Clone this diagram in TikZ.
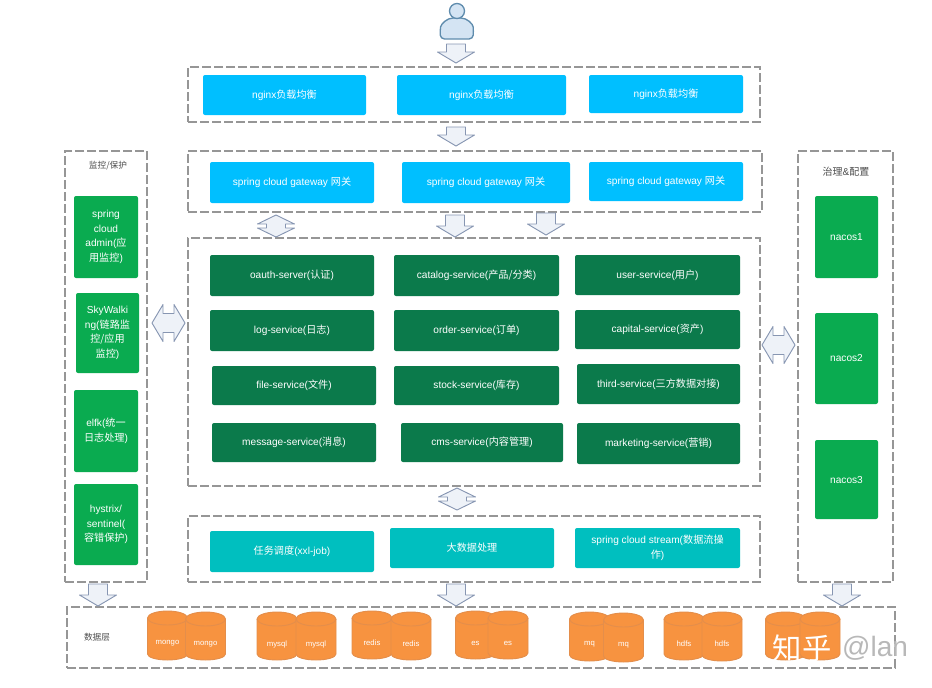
\documentclass[tikz,border=0pt]{standalone}
\usepackage{fontspec}
\setmainfont{Liberation Sans}
\newfontfamily\cjk{Noto Sans CJK SC}
\newcommand{\zh}[1]{{\cjk #1}}
\usetikzlibrary{positioning, calc}
\definecolor{colBlue}{RGB}{0, 191, 255}
\definecolor{colDark}{RGB}{11, 122, 75}
\definecolor{colGreen}{RGB}{10, 171, 80}
\definecolor{colTeal}{RGB}{0, 191, 191}
\definecolor{colOrange}{RGB}{247, 147, 64}
\definecolor{colEdge}{RGB}{228, 142, 75}
\definecolor{colDash}{RGB}{150, 150, 150}
\definecolor{colArrow}{RGB}{238, 242, 248}
\definecolor{colArrowEdge}{RGB}{135, 150, 178}
\definecolor{colUser}{RGB}{212, 228, 243}
\definecolor{colUserEdge}{RGB}{95, 140, 173}
\tikzset{
    svc/.style={rectangle, rounded corners=1.5pt, inner sep=1pt, align=center, text=white,
        font=\fontsize{7.6}{11}\selectfont},
    layer/.style={rectangle, draw=colDash, dash pattern=on 6.5pt off 2.5pt, line width=0.95pt, inner sep=0pt},
    dbcyl/.style={draw=colEdge, fill=colOrange, line width=0.7pt},
    dblabel/.style={text=white, inner sep=0pt, font=\fontsize{5.8}{7}\selectfont},
    blockarrow/.style={draw=colArrowEdge, fill=colArrow, line width=0.7pt, line join=round},
    title/.style={text=black!70, font=\fontsize{6.5}{8}\selectfont}
}

\begin{document}
\begin{tikzpicture}[x=0.75pt, y=-0.75pt]
    \useasboundingbox (0,0) rectangle (932,687);

    % --- Dashed layers ---
    \foreach \nm/\xa/\ya/\xb/\yb in {layNginx/188/67/760/122, layGateway/188/151/762/212, layService/188/238/760/486,
        layTask/188/516/760/582, layMonitor/65/151/147/582, layConfig/798/151/893/582, layData/67/607/895/668} {
        \node[layer, minimum width=(\xb-\xa)*0.75pt, minimum height=(\yb-\ya)*0.75pt] (\nm) at ({(\xa+\xb)/2}, {(\ya+\yb)/2}) {};
    }

    % --- User ---
    \draw[draw=colUserEdge, fill=colUser, line width=1pt, rounded corners=3pt]
        (440.5,39) -- (440,31) .. controls (441,24) and (447,18) .. (457,18) .. controls (467,18) and (473,24) .. (473.5,31) -- (473,39) -- cycle;
    \draw[draw=colUserEdge, fill=colUser, line width=1pt] (457,11) circle [radius=7.5];

    % --- Blue boxes ---
    \foreach \nm/\xa/\ya/\xb/\yb/\txt in {
        nginxA/203/75/366/115/nginx\zh{负载均衡}, nginxB/397/75/566/115/nginx\zh{负载均衡}, nginxC/589/75/743/113/nginx\zh{负载均衡},
        gateA/210/162/374/203/spring cloud gateway \zh{网关}, gateB/402/162/570/203/spring cloud gateway \zh{网关},
        gateC/589/162/743/201/spring cloud gateway \zh{网关}} {
        \node[svc, fill=colBlue, minimum width=(\xb-\xa)*0.75pt, minimum height=(\yb-\ya)*0.75pt] (\nm) at ({(\xa+\xb)/2}, {(\ya+\yb)/2}) {\txt};
    }

    % --- Services ---
    \foreach \nm/\xa/\ya/\xb/\yb/\txt in {
        oauth/210/255/374/296/oauth-server(\zh{认证}), catalog/394/255/559/296/catalog-service(\zh{产品/分类}), user/575/255/740/295/user-service(\zh{用户}),
        logs/210/310/374/351/log-service(\zh{日志}), order/394/310/559/351/order-service(\zh{订单}), capital/575/310/740/349/capital-service(\zh{资产}),
        file/212/366/376/405/file-service(\zh{文件}), stock/394/366/559/405/stock-service(\zh{库存}), third/577/364/740/404/third-service(\zh{三方数据对接}),
        message/212/423/376/462/message-service(\zh{消息}), cms/401/423/563/462/cms-service(\zh{内容管理}), marketing/577/423/740/464/marketing-service(\zh{营销})} {
        \node[svc, fill=colDark, minimum width=(\xb-\xa)*0.75pt, minimum height=(\yb-\ya)*0.75pt] (\nm) at ({(\xa+\xb)/2}, {(\ya+\yb)/2}) {\txt};
    }

    % --- Task layer ---
    \foreach \nm/\xa/\ya/\xb/\yb/\txt in {
        task/210/531/374/572/\zh{任务调度}(xxl-job), bigdata/390/528/554/568/\zh{大数据处理},
        stream/575/528/740/568/{spring cloud stream(\zh{数据流操}\\\zh{作})}} {
        \node[svc, fill=colTeal, minimum width=(\xb-\xa)*0.75pt, minimum height=(\yb-\ya)*0.75pt] (\nm) at ({(\xa+\xb)/2}, {(\ya+\yb)/2}) {\txt};
    }

    % --- Side panels ---
    \node[title] (monTitle) at (108,166) {\zh{监控/保护}};
    \node[title, font=\fontsize{7.5}{9}\selectfont] (cfgTitle) at (846,172) {\zh{治理}\&\zh{配置}};
    \foreach \nm/\xa/\ya/\xb/\yb/\txt in {
        admin/74/196/138/278/{spring\\cloud\\admin(\zh{应}\\\zh{用监控})}, sky/76/293/139/373/{SkyWalki\\ng(\zh{链路监}\\\zh{控/应用}\\\zh{监控})},
        elfk/74/390/138/472/{elfk(\zh{统一}\\\zh{日志处理})}, hystrix/74/484/138/565/{hystrix/\\sentinel(\\\zh{容错保护})},
        nacosA/815/196/878/278/nacos1, nacosB/815/313/878/404/nacos2, nacosC/815/440/878/519/nacos3} {
        \node[svc, fill=colGreen, minimum width=(\xb-\xa)*0.75pt, minimum height=(\yb-\ya)*0.75pt] (\nm) at ({(\xa+\xb)/2}, {(\ya+\yb)/2}) {\txt};
    }

    % --- Data layer ---
    \node[title] (dataTitle) at (97,637) {\zh{数据层}};
    \foreach \nm/\cx/\ya/\yb/\txt in {
        mongoA/167.5/611/660/mongo, mongoB/205.5/612/660/mongo, mysqlA/277/612/660/mysql, mysqlB/316/612/660/mysql,
        redisA/372/611/659/redis, redisB/411/612/660/redis, esA/475.5/611/659/es, esB/508/611/659/es,
        mqA/589.5/612/661/mq, mqB/623.5/613/662/mq, hdfsA/684/612/660/hdfs, hdfsB/722/612/661/hdfs,
        lastA/785.5/612/660/{}, lastB/820/612/660/{}} {
        \draw[dbcyl] (\cx-20,\ya+7) -- (\cx-20,\yb-6) arc[start angle=180, end angle=0, x radius=20, y radius=6]
            -- (\cx+20,\ya+7) arc[start angle=0, end angle=-180, x radius=20, y radius=7] -- cycle;
        \draw[dbcyl, fill=none] (\cx-20,\ya+7) arc[start angle=180, end angle=0, x radius=20, y radius=7];
        \node[dblabel] (\nm) at (\cx,\ya+32) {\txt};
    }

    % --- Block arrows ---
    \foreach \cx/\ya/\yb in {456/44/63, 456/127/146, 455/215/237, 546/213/235, 98/584/606, 456/584/606, 842/584/606} {
        \draw[blockarrow] (\cx-9.5,\ya) -- (\cx+9.5,\ya) -- (\cx+9.5,\yb-11) -- (\cx+18.5,\yb-11) -- (\cx,\yb)
            -- (\cx-18.5,\yb-11) -- (\cx-9.5,\yb-11) -- cycle;
    }
    \foreach \cx/\ya/\yb in {276/215/237, 457/488/510} {
        \draw[blockarrow] (\cx,\ya) -- (\cx+18.5,\ya+9) -- (\cx+9.5,\ya+9) -- (\cx+9.5,\yb-9) -- (\cx+18.5,\yb-9) -- (\cx,\yb)
            -- (\cx-18.5,\yb-9) -- (\cx-9.5,\yb-9) -- (\cx-9.5,\ya+9) -- (\cx-18.5,\ya+9) -- cycle;
    }
    \foreach \xa/\xb/\cy in {152/185/323, 762/795/345} {
        \draw[blockarrow] (\xa,\cy) -- (\xa+11,\cy-18.5) -- (\xa+11,\cy-9.5) -- (\xb-11,\cy-9.5) -- (\xb-11,\cy-18.5) -- (\xb,\cy)
            -- (\xb-11,\cy+18.5) -- (\xb-11,\cy+9.5) -- (\xa+11,\cy+9.5) -- (\xa+11,\cy+18.5) -- cycle;
    }

    % --- Watermark ---
    \node[text=white, font=\cjk\fontsize{22}{24}\selectfont] (mark) at (802,648) {知乎};
    \node[text=black!28, font=\fontsize{21}{24}\selectfont] (markName) at (875,648) {@lan};
\end{tikzpicture}
\end{document}
